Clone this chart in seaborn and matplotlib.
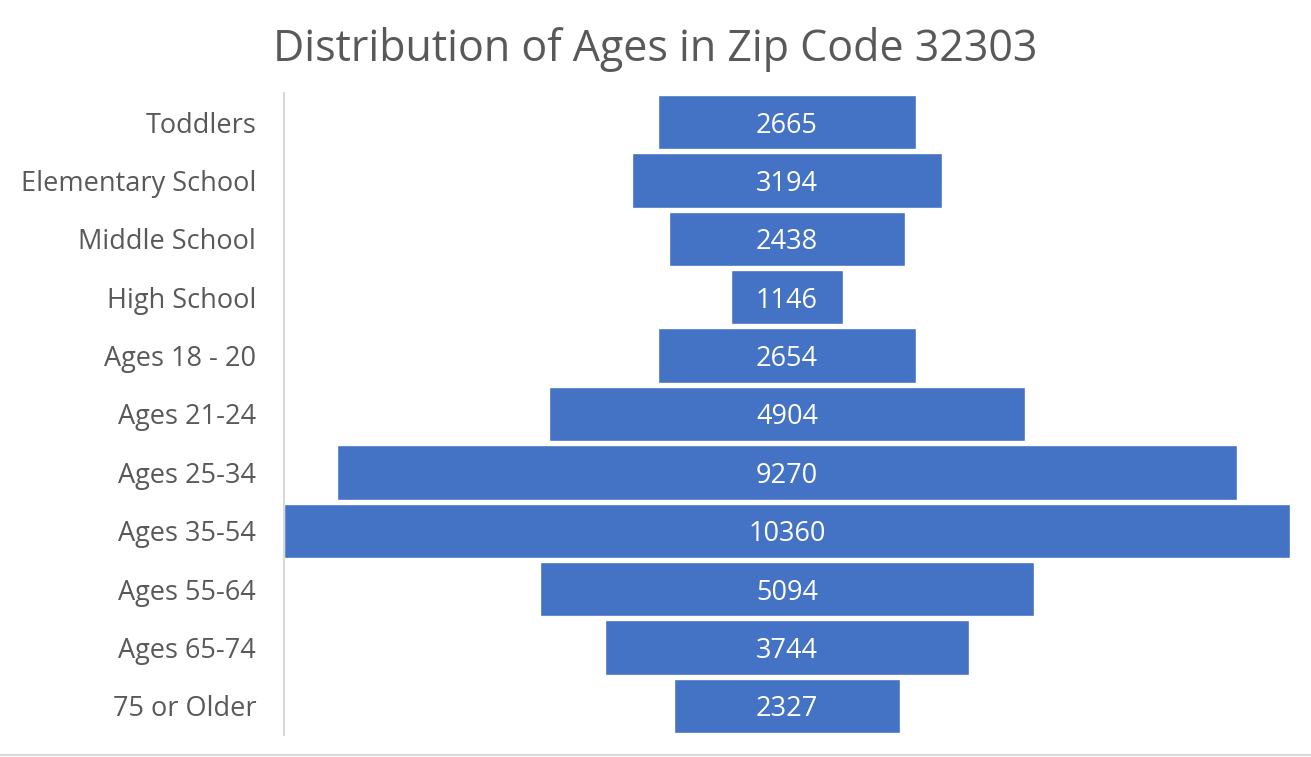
import matplotlib
matplotlib.use("Agg")
import matplotlib.pyplot as plt
import pandas as pd
import seaborn as sns

categories = ["Toddlers", "Elementary School", "Middle School", "High School",
              "Ages 18 - 20", "Ages 21-24", "Ages 25-34", "Ages 35-54",
              "Ages 55-64", "Ages 65-74", "75 or Older"]
counts = [2665, 3194, 2438, 1146, 2654, 4904, 9270, 10360, 5094, 3744, 2327]

df = pd.DataFrame({"group": categories, "count": counts})

sns.set_theme(style="white")
plt.rcParams["font.family"] = ["Open Sans", "DejaVu Sans"]

W, H = 1311, 757
fig = plt.figure(figsize=(W / 100, H / 100), dpi=100)
ax = fig.add_axes([284 / W, 1 - 735 / H, (1290 - 284) / W, (735 - 93) / H])

sns.barplot(data=df, y="group", x="count", color="#4472C4", width=0.93,
            saturation=1, ax=ax)

# funnel: centre each bar on zero
for patch, v in zip(ax.patches, counts):
    patch.set_x(-patch.get_width() / 2)
    ax.text(0, patch.get_y() + patch.get_height() / 2, str(v),
            ha="center", va="center_baseline", color="white", fontsize=19.5)

half = max(counts) / 2
ax.set_xlim(-half, half)
ax.set_ylim(len(categories) - 0.5, -0.5)
ax.set_xlabel("")
ax.set_ylabel("")
ax.set_xticks([])
ax.tick_params(axis="y", length=0, pad=20, labelsize=19.5, labelcolor="#595959")

for side in ["top", "right", "bottom"]:
    ax.spines[side].set_visible(False)
ax.spines["left"].set_color("#D9D9D9")
ax.spines["left"].set_linewidth(1.5)

fig.text(0.5, 1 - 50 / H, "Distribution of Ages in Zip Code 32303",
         ha="center", va="center", fontsize=31, color="#595959")

# thin chart border line at the bottom
fig.add_artist(plt.Line2D([0, 1], [1 - 755 / H, 1 - 755 / H],
                          color="#D9D9D9", linewidth=1.5))

fig.savefig("out.png", dpi=100, facecolor="white")
